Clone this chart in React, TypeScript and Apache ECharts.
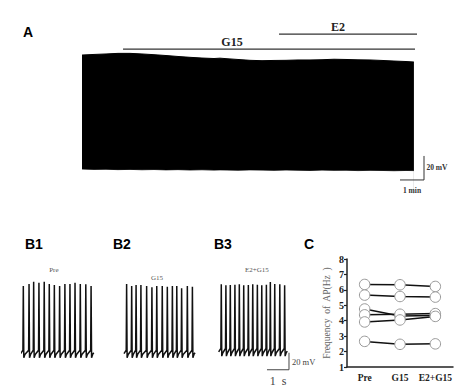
import React, { useEffect, useRef } from "react";
import * as echarts from "echarts";

// ---------- Panel A: long recording (minutes, mV) ----------
const traceMinutes = [0, 0.5, 1, 1.5, 2, 2.5, 3, 3.5, 4, 4.5, 5, 5.5, 5.75, 6, 6.5, 7, 7.5, 8, 8.5, 9, 9.5, 10, 10.5, 11, 11.5, 12, 12.5, 13, 13.5, 13.83];
const traceTop = [35.8, 36.3, 36.7, 37.2, 37.2, 36.7, 36.1, 35.4, 34.6, 33.9, 33.3, 32.9, 33.2, 32.8, 32.1, 31.4, 31.1, 31.3, 31.4, 31.7, 31.7, 31.9, 32.3, 32.1, 31.8, 31.7, 31.3, 30.8, 30.4, 30.0];
const traceBottom = [-59.2, -59.5, -59.4, -59.7, -59.5, -59.8, -59.6, -59.9, -59.7, -60.0, -59.8, -60.1, -59.9, -60.0, -60.2, -59.9, -60.1, -60.3, -60.0, -60.2, -60.4, -60.1, -60.3, -60.2, -60.5, -60.3, -60.4, -60.6, -60.4, -60.5];
const g15Period = [1.71, 13.875];
const e2Period = [8.21, 13.96];

// ---------- Panels B1-B3: spike times (s) and peak potentials (mV) ----------
const preSpikeTimes = [0.06, 0.32, 0.53, 0.77, 1.01, 1.24, 1.47, 1.71, 1.95, 2.18, 2.41, 2.65, 2.9, 3.14];
const preSpikePeaks = [18.5, 20.9, 23.6, 22.4, 23.6, 20.9, 19.7, 18.5, 20.9, 20.9, 22.4, 20.9, 20.5, 18.5];
const g15SpikeTimes = [0.21, 0.44, 0.64, 0.86, 1.12, 1.36, 1.58, 1.83, 2.06, 2.29, 2.49, 2.71, 2.97, 3.2];
const g15SpikePeaks = [20.9, 18.5, 19.7, 19.7, 18.5, 17.0, 18.5, 18.5, 17.7, 18.5, 18.5, 15.8, 18.5, 17.7];
const e2g15SpikeTimes = [0.24, 0.45, 0.65, 0.86, 1.06, 1.26, 1.47, 1.67, 1.88, 2.08, 2.29, 2.47, 2.67, 2.9, 3.12];
const e2g15SpikePeaks = [20.5, 19.4, 19.7, 20.0, 20.5, 19.4, 19.7, 20.5, 20.0, 19.4, 20.0, 23.2, 20.8, 20.5, 19.4];

// ---------- Panel C: AP frequency per cell ----------
const conditions = ["Pre", "G15", "E2+G15"];
const cell1 = [6.35, 6.33, 6.22];
const cell2 = [5.66, 5.57, 5.53];
const cell3 = [4.76, 4.3, 4.33];
const cell4 = [4.38, 4.42, 4.46];
const cell5 = [3.92, 4.05, 4.28];
const cell6 = [2.66, 2.47, 2.5];
const cells = [cell1, cell2, cell3, cell4, cell5, cell6];

const SERIF = "'Liberation Serif', 'Times New Roman', serif";
const SANS = "'Liberation Sans', Arial, sans-serif";

function spikeTrain(times: number[], peaks: number[], trough: number, thresh: number) {
  const pts: number[][] = [];
  pts.push([times[0] - 0.12, trough + 5]);
  times.forEach((t, i) => {
    pts.push([t - 0.018, thresh]);
    pts.push([t, peaks[i]]);
    pts.push([t + 0.022, trough]);
    pts.push([t + 0.07, trough + 4]);
  });
  const last = times[times.length - 1];
  pts.push([last + 0.12, trough + 6]);
  return pts;
}

export default function App() {
  const ref = useRef<HTMLDivElement>(null);
  useEffect(() => {
    if (!ref.current) return;
    const chart = echarts.init(ref.current, null, { renderer: "svg" });
    const hidden = { show: false };
    const bGrid = (left: number) => ({ left, top: 272, width: 88, height: 102 });
    const bX = (i: number) => ({ type: "value", gridIndex: i, min: 0, max: 4, show: false });
    const bY = (i: number) => ({ type: "value", gridIndex: i, min: -85, max: 35, show: false });
    const traceLine = (name: string, idx: number, data: number[][]) => ({
      name,
      type: "line",
      xAxisIndex: idx,
      yAxisIndex: idx,
      data,
      symbol: "none",
      silent: true,
      lineStyle: { color: "#111", width: 1.5 },
      clip: false,
    });

    const series: any[] = [
      {
        name: "A-top",
        type: "line",
        xAxisIndex: 0,
        yAxisIndex: 0,
        symbol: "none",
        silent: true,
        lineStyle: { color: "#000", width: 1 },
        areaStyle: { color: "#000", opacity: 1, origin: "start" },
        data: traceMinutes.map((m, i) => [m, traceTop[i]]),
        z: 1,
      },
      {
        name: "A-bottom",
        type: "line",
        xAxisIndex: 0,
        yAxisIndex: 0,
        symbol: "none",
        silent: true,
        lineStyle: { color: "#000", width: 0.8 },
        areaStyle: { color: "#fff", opacity: 1, origin: "start" },
        data: traceMinutes.map((m, i) => [m, traceBottom[i]]),
        z: 2,
      },
      {
        ...traceLine("G15 bar", 0, [
          [g15Period[0], 40.8],
          [g15Period[1], 40.8],
        ]),
        lineStyle: { color: "#333", width: 1.2 },
        z: 3,
      },
      {
        ...traceLine("E2 bar", 0, [
          [e2Period[0], 53.3],
          [e2Period[1], 53.3],
        ]),
        lineStyle: { color: "#333", width: 1.2 },
        z: 3,
      },
      {
        ...traceLine("A scale", 0, [
          [13.25, -68.3],
          [14.25, -68.3],
          [14.25, -48.3],
        ]),
        lineStyle: { color: "#333", width: 1 },
        z: 3,
      },
      traceLine("Pre", 1, spikeTrain(preSpikeTimes, preSpikePeaks, -66, -57)),
      traceLine("G15", 2, spikeTrain(g15SpikeTimes, g15SpikePeaks, -66, -57)),
      traceLine("E2+G15", 3, spikeTrain(e2g15SpikeTimes, e2g15SpikePeaks, -64, -55)),
      {
        ...traceLine("B scale", 3, [
          [2.318, -80],
          [3.318, -80],
          [3.318, -60],
        ]),
        lineStyle: { color: "#444", width: 1 },
      },
    ];

    cells.forEach((c, i) => {
      series.push({
        name: "cell" + (i + 1),
        type: "line",
        xAxisIndex: 4,
        yAxisIndex: 4,
        data: c,
        symbol: "circle",
        symbolSize: 10.5,
        showAllSymbol: true,
        lineStyle: { color: "#111", width: 1.5 },
        itemStyle: { color: "#fff", borderColor: "#999", borderWidth: 1 },
        z: 3,
      });
    });

    chart.setOption({
      animation: false,
      backgroundColor: "#fff",
      grid: [
        { left: 82, top: 26, width: 384, height: 168 },
        bGrid(22),
        bGrid(122),
        bGrid(216),
        { left: 347, top: 259, width: 106, height: 108 },
      ],
      xAxis: [
        { type: "value", gridIndex: 0, min: 0, max: 16, show: false },
        bX(1),
        bX(2),
        bX(3),
        {
          type: "category",
          gridIndex: 4,
          data: conditions,
          boundaryGap: true,
          axisLine: { lineStyle: { color: "#222", width: 1.5 } },
          axisTick: hidden,
          axisLabel: { interval: 0, color: "#222", fontFamily: SERIF, fontWeight: "bold", fontSize: 9.5, margin: 6 },
        },
      ],
      yAxis: [
        { type: "value", gridIndex: 0, min: -80, max: 60, show: false },
        bY(1),
        bY(2),
        bY(3),
        {
          type: "value",
          gridIndex: 4,
          min: 1,
          max: 8,
          interval: 1,
          name: "Frequency  of  AP(Hz  )",
          nameLocation: "middle",
          nameGap: 15,
          nameRotate: 90,
          nameTextStyle: { color: "#666", fontFamily: SERIF, fontSize: 9.5 },
          axisLine: { show: true, lineStyle: { color: "#222", width: 1.5 } },
          axisTick: { show: true, length: 3, lineStyle: { color: "#222", width: 1.2 } },
          splitLine: hidden,
          axisLabel: { color: "#222", fontFamily: SERIF, fontWeight: "bold", fontSize: 10, margin: 3 },
        },
      ],
      series,
    });

    const px = (g: number, p: number[]) => chart.convertToPixel({ gridIndex: g } as any, p) as number[];
    const txt = (
      pos: number[],
      text: string,
      font: { size: number; weight?: string; family?: string; color?: string },
      align = "center"
    ) => ({
      type: "text",
      x: pos[0],
      y: pos[1],
      silent: true,
      z: 10,
      style: {
        text,
        fill: font.color || "#111",
        fontSize: font.size,
        fontWeight: font.weight || "normal",
        fontFamily: font.family || SERIF,
        align,
        verticalAlign: "middle",
      },
    });
    const panel = (x: number, y: number, t: string) =>
      txt([x, y], t, { size: 14, weight: "bold", family: SANS, color: "#000" }, "left");

    chart.setOption({
      graphic: [
        panel(23, 32, "A"),
        panel(25, 244, "B1"),
        panel(113, 244, "B2"),
        panel(214, 244, "B3"),
        panel(304, 244, "C"),
        txt(px(0, [6.25, 46.7]), "G15", { size: 12, weight: "bold", color: "#222" }),
        txt(px(0, [10.67, 59.2]), "E2", { size: 12, weight: "bold", color: "#222" }),
        txt(px(0, [14.35, -58.3]), "20 mV", { size: 7.5, weight: "bold", color: "#333" }, "left"),
        txt(px(0, [13.75, -76.7]), "1 min", { size: 7.5, weight: "bold", color: "#333" }),
        txt(px(1, [1.45, 37.4]), "Pre", { size: 7, color: "#555" }),
        txt(px(2, [1.59, 27.9]), "G15", { size: 7, color: "#555" }),
        txt(px(3, [1.86, 37.4]), "E2+G15", { size: 7, color: "#555" }),
        txt(px(3, [3.45, -70.9]), "20 mV", { size: 8.5, color: "#444" }, "left"),
        txt(px(3, [2.82, -93.2]), "1  s", { size: 12, color: "#444" }),
      ],
    });

    return () => chart.dispose();
  }, []);
  return (
    <div
      ref={ref}
      style={{ position: "absolute", left: 0, top: 0, width: 474, height: 391, background: "#fff" }}
    />
  );
}
